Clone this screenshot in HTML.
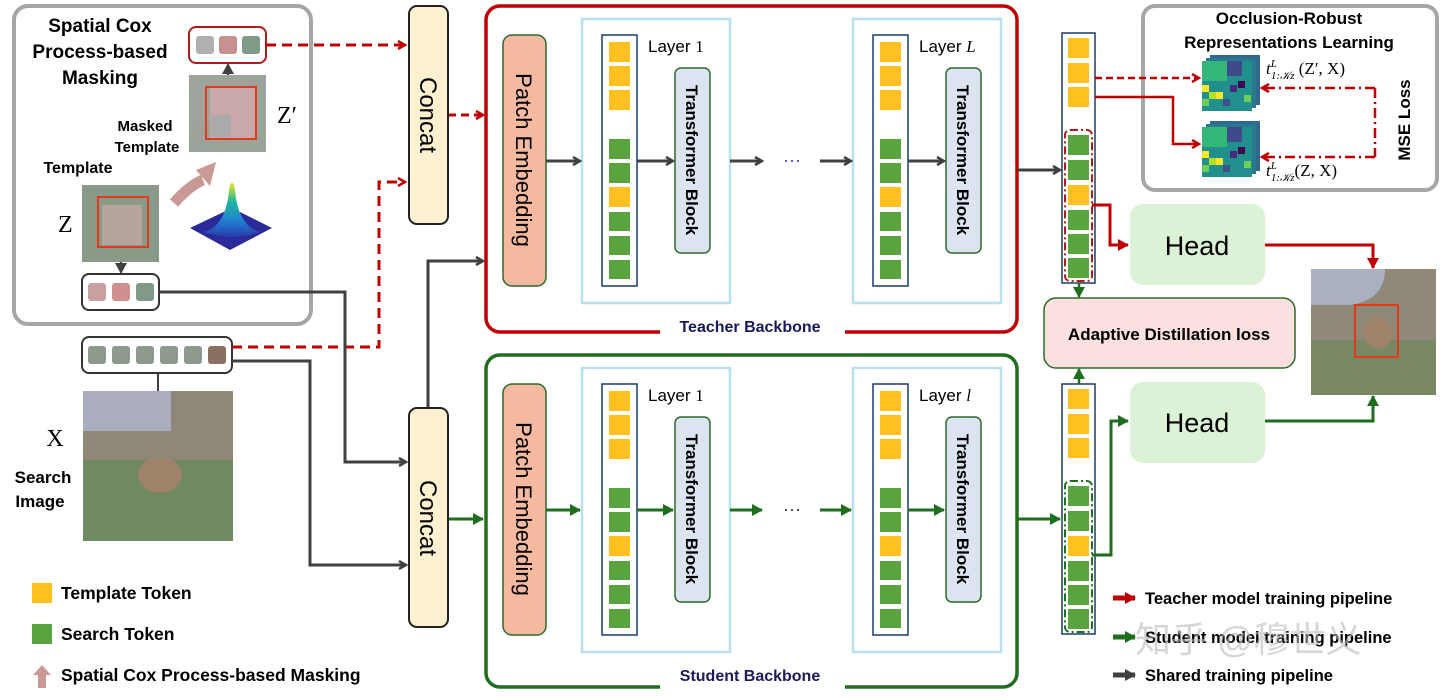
<!DOCTYPE html>
<html><head><meta charset="utf-8"><style>
body{margin:0;background:#fff}
svg{display:block}
text{font-family:"Liberation Sans",sans-serif}
.b{font-weight:bold}
.s{font-family:"Liberation Serif",serif}
</style></head><body>
<svg width="1440" height="699" viewBox="0 0 1440 699" xmlns="http://www.w3.org/2000/svg">
<defs>
<marker id="ad" markerWidth="10" markerHeight="10" refX="8" refY="5" orient="auto" markerUnits="userSpaceOnUse"><path d="M1,1 L8,5 L1,9" fill="none" stroke="#404040" stroke-width="2.5"/></marker>
<marker id="ar" markerWidth="10" markerHeight="10" refX="8" refY="5" orient="auto" markerUnits="userSpaceOnUse"><path d="M1,1 L8,5 L1,9" fill="none" stroke="#c00000" stroke-width="2.5"/></marker>
<marker id="arf" markerWidth="12" markerHeight="12" refX="10" refY="6" orient="auto" markerUnits="userSpaceOnUse"><path d="M0,0 L11,6 L0,12 Z" fill="#c00000"/></marker>
<marker id="ag" markerWidth="12" markerHeight="12" refX="10" refY="6" orient="auto" markerUnits="userSpaceOnUse"><path d="M0,0 L11,6 L0,12 Z" fill="#1e6e1e"/></marker>
<marker id="adf" markerWidth="12" markerHeight="12" refX="10" refY="6" orient="auto" markerUnits="userSpaceOnUse"><path d="M0,0 L11,6 L0,12 Z" fill="#404040"/></marker>
<linearGradient id="gau" x1="0" y1="0" x2="0" y2="1"><stop offset="0" stop-color="#f5e020"/><stop offset="0.35" stop-color="#20b8a0"/><stop offset="0.7" stop-color="#2080d0"/><stop offset="1" stop-color="#2a3aaa"/></linearGradient>
<linearGradient id="grass" x1="0" y1="0" x2="1" y2="1"><stop offset="0" stop-color="#7a8a78"/><stop offset="1" stop-color="#6f8a6a"/></linearGradient>
<g id="hm">
<rect x="8" y="0" width="50" height="50" fill="#31688e"/>
<rect x="4" y="3" width="50" height="50" fill="#2a788e"/>
<rect x="0" y="6" width="50" height="50" fill="#21908d"/>
<rect x="0" y="6" width="25" height="20" fill="#35b779"/>
<rect x="25" y="6" width="15" height="15" fill="#3e4a89"/>
<rect x="36" y="26" width="7" height="7" fill="#440154"/>
<rect x="0" y="30" width="7" height="7" fill="#fde725"/>
<rect x="7" y="37" width="7" height="7" fill="#b5de2b"/>
<rect x="14" y="37" width="7" height="7" fill="#fde725"/>
<rect x="0" y="44" width="7" height="7" fill="#6ece58"/>
<rect x="21" y="44" width="7" height="7" fill="#3b528b"/>
<rect x="28" y="30" width="7" height="7" fill="#482878"/>
<rect x="42" y="40" width="7" height="7" fill="#6ece58"/>
</g>
</defs>

<rect x="14" y="6" width="297" height="318" rx="14" fill="#fff" stroke="#a6a6a6" stroke-width="4"/>
<text x="100" y="32" class="b" font-size="19" text-anchor="middle">Spatial Cox</text>
<text x="100" y="58" class="b" font-size="19" text-anchor="middle">Process-based</text>
<text x="100" y="84" class="b" font-size="19" text-anchor="middle">Masking</text>
<rect x="189" y="27" width="77" height="36" rx="7" fill="#fff" stroke="#b01c1c" stroke-width="2"/>
<rect x="196" y="36" width="18" height="18" rx="3" fill="#b0b0b0"/>
<rect x="219" y="36" width="18" height="18" rx="3" fill="#c99090"/>
<rect x="242" y="36" width="18" height="18" rx="3" fill="#7f9a88"/>
<line x1="228" y1="75" x2="228" y2="64" stroke="#000" stroke-width="1.5" marker-end="url(#adf)"/>
<rect x="189" y="75" width="77" height="77" fill="url(#grass)"/>
<rect x="189" y="75" width="77" height="77" fill="#b5b5b5" opacity="0.6"/>
<rect x="210" y="88" width="45" height="50" fill="#c8a8a8"/>
<rect x="211" y="115" width="20" height="22" fill="#aaa"/>
<rect x="206" y="87" width="50" height="52" fill="none" stroke="#e03a1a" stroke-width="2"/>
<text x="277" y="123" class="s" font-size="24">Z′</text>
<text x="145" y="131" class="b" font-size="15" text-anchor="middle">Masked</text>
<text x="147" y="152" class="b" font-size="15" text-anchor="middle">Template</text>
<text x="78" y="173" class="b" font-size="16" text-anchor="middle">Template</text>
<path d="M174,203 Q190,185 203,180" fill="none" stroke="#c99a95" stroke-width="11"/>
<path d="M196,170 L216,162 L210,186 Z" fill="#c99a95"/>
<path d="M190,228 L230,250 L272,228 L232,208 Z" fill="#2a2a9a"/>
<path d="M204,232 Q226,226 229,190 Q232,175 235,190 Q238,226 260,232 Q232,242 204,232 Z" fill="url(#gau)"/>
<text x="58" y="232" class="s" font-size="24">Z</text>
<rect x="82" y="185" width="77" height="77" fill="#8a9a88"/>
<rect x="102" y="205" width="40" height="40" fill="#b7a49e"/>
<rect x="98" y="197" width="50" height="50" fill="none" stroke="#e03a1a" stroke-width="2"/>
<line x1="121" y1="262" x2="121" y2="273" stroke="#000" stroke-width="1.5" marker-end="url(#adf)"/>
<rect x="82" y="274" width="77" height="36" rx="7" fill="#fff" stroke="#333" stroke-width="2"/>
<rect x="88" y="283" width="18" height="18" rx="3" fill="#c9a0a0"/>
<rect x="112" y="283" width="18" height="18" rx="3" fill="#d09090"/>
<rect x="136" y="283" width="18" height="18" rx="3" fill="#7f9a88"/>

<rect x="82" y="337" width="150" height="36" rx="7" fill="#fff" stroke="#333" stroke-width="2"/>
<g fill="#8e9a8e"><rect x="88" y="346" width="18" height="18" rx="3"/><rect x="112" y="346" width="18" height="18" rx="3"/><rect x="136" y="346" width="18" height="18" rx="3"/><rect x="160" y="346" width="18" height="18" rx="3"/><rect x="184" y="346" width="18" height="18" rx="3"/><rect x="208" y="346" width="18" height="18" rx="3" fill="#8a7060"/></g>
<line x1="158" y1="391" x2="158" y2="374" stroke="#000" stroke-width="1.5"/>
<rect x="83" y="391" width="150" height="150" fill="#8f8878"/>
<rect x="83" y="391" width="88" height="40" fill="#a9adbe"/>
<rect x="83" y="460" width="150" height="81" fill="#6f8a60"/>
<ellipse cx="160" cy="475" rx="22" ry="18" fill="#9e826a"/>
<text x="55" y="446" class="s" font-size="24" text-anchor="middle">X</text>
<text x="43" y="483" class="b" font-size="17" text-anchor="middle">Search</text>
<text x="40" y="507" class="b" font-size="17" text-anchor="middle">Image</text>

<rect x="32" y="583" width="20" height="20" fill="#ffc020"/>
<text x="61" y="599" class="b" font-size="17.5">Template Token</text>
<rect x="32" y="624" width="20" height="20" fill="#5aa440"/>
<text x="61" y="640" class="b" font-size="17.5">Search Token</text>
<path d="M38,688 L38,675 L33,675 L42,665 L51,675 L46,675 L46,688 Z" fill="#c99a95"/>
<text x="61" y="681" class="b" font-size="17.5">Spatial Cox Process-based Masking</text>

<path d="M266,45 L405,45" fill="none" stroke="#c00000" stroke-width="3" stroke-dasharray="10,6" marker-end="url(#ar)"/>
<path d="M232,347 L379,347 L379,182 L405,182" fill="none" stroke="#c00000" stroke-width="3" stroke-dasharray="10,6" marker-end="url(#ar)"/>
<path d="M448,115 L483,115" fill="none" stroke="#c00000" stroke-width="3" stroke-dasharray="8,5" marker-end="url(#ar)"/>
<path d="M159,292 L345,292 L345,462 L406,462" fill="none" stroke="#404040" stroke-width="3" marker-end="url(#ad)"/>
<path d="M232,361 L310,361 L310,565 L406,565" fill="none" stroke="#404040" stroke-width="3" marker-end="url(#ad)"/>
<path d="M428,408 L428,261 L483,261" fill="none" stroke="#404040" stroke-width="3" marker-end="url(#ad)"/>
<path d="M448,519 L483,519" fill="none" stroke="#1e6e1e" stroke-width="3" marker-end="url(#ag)"/>

<rect x="409" y="6" width="39" height="218" rx="8" fill="#fdf1cf" stroke="#222" stroke-width="2"/>
<text transform="translate(420,115) rotate(90)" font-size="24" text-anchor="middle">Concat</text>
<rect x="409" y="408" width="39" height="219" rx="8" fill="#fdf1cf" stroke="#222" stroke-width="2"/>
<text transform="translate(420,518) rotate(90)" font-size="24" text-anchor="middle">Concat</text>

<rect x="486" y="6" width="531" height="326" rx="14" fill="#fff" stroke="#c00000" stroke-width="3.5"/>
<rect x="660" y="318" width="185" height="20" fill="#fff"/>
<text x="750" y="332" class="b" font-size="16" fill="#1a1a5a" text-anchor="middle">Teacher Backbone</text>
<rect x="486" y="355" width="531" height="332" rx="14" fill="#fff" stroke="#1e6e1e" stroke-width="3.5"/>
<rect x="660" y="672" width="185" height="20" fill="#fff"/>
<text x="750" y="681" class="b" font-size="16" fill="#1a1a5a" text-anchor="middle">Student Backbone</text>

<g id="tb">
<rect x="503" y="35" width="43" height="251" rx="9" fill="#f5b9a0" stroke="#2a6a2a" stroke-width="1.5"/>
<text transform="translate(516,160) rotate(90)" font-size="22" text-anchor="middle">Patch Embedding</text>
<rect x="582" y="19" width="148" height="284" fill="#fff" stroke="#b8e0ee" stroke-width="2.5"/>
<rect x="853" y="19" width="148" height="284" fill="#fff" stroke="#b8e0ee" stroke-width="2.5"/>
<g id="col">
<rect x="602" y="35" width="35" height="251" fill="#fff" stroke="#1a3a6a" stroke-width="1.5"/>
<g fill="#ffc020"><rect x="609" y="42" width="21" height="20"/><rect x="609" y="66" width="21" height="20"/><rect x="609" y="90" width="21" height="20"/><rect x="609" y="187" width="21" height="20"/></g>
<g fill="#5aa440"><rect x="609" y="139" width="21" height="20"/><rect x="609" y="163" width="21" height="20"/><rect x="609" y="212" width="21" height="19"/><rect x="609" y="236" width="21" height="19"/><rect x="609" y="260" width="21" height="19"/></g>
</g>
<use href="#col" x="271"/>
<rect x="675" y="68" width="35" height="185" rx="6" fill="#dce4f2" stroke="#2a6a2a" stroke-width="1.5"/>
<text transform="translate(686,160) rotate(90)" class="b" font-size="17" text-anchor="middle">Transformer Block</text>
<rect x="946" y="68" width="35" height="185" rx="6" fill="#dce4f2" stroke="#2a6a2a" stroke-width="1.5"/>
<text transform="translate(957,160) rotate(90)" class="b" font-size="17" text-anchor="middle">Transformer Block</text>
</g>
<text x="648" y="52" font-size="17">Layer <tspan class="s">1</tspan></text>
<text x="919" y="52" font-size="17">Layer <tspan class="s" font-style="italic">L</tspan></text>
<use href="#tb" y="349"/>
<text x="648" y="401" font-size="17">Layer <tspan class="s">1</tspan></text>
<text x="919" y="401" font-size="17">Layer <tspan class="s" font-style="italic">l</tspan></text>

<g stroke="#404040" stroke-width="3" fill="none">
<path d="M546,161 L580,161" marker-end="url(#ad)"/><path d="M637,161 L673,161" marker-end="url(#ad)"/><path d="M730,161 L762,161" marker-end="url(#ad)"/><path d="M820,161 L851,161" marker-end="url(#ad)"/><path d="M908,161 L944,161" marker-end="url(#ad)"/>
<path d="M1017,170 L1060,170" marker-end="url(#ad)"/>
</g>
<text x="792" y="166" font-size="18" fill="#5a3aa0" text-anchor="middle">···</text>
<g stroke="#1e6e1e" stroke-width="3" fill="none">
<path d="M546,510 L580,510" marker-end="url(#ag)"/><path d="M637,510 L673,510" marker-end="url(#ag)"/><path d="M730,510 L762,510" marker-end="url(#ag)"/><path d="M820,510 L851,510" marker-end="url(#ag)"/><path d="M908,510 L944,510" marker-end="url(#ag)"/>
<path d="M1017,519 L1060,519" marker-end="url(#ag)"/>
</g>
<text x="792" y="515" font-size="18" fill="#333" text-anchor="middle">···</text>

<g id="oc">
<rect x="1062" y="33" width="33" height="250" fill="#fff" stroke="#1a3a6a" stroke-width="1.5"/>
<g fill="#ffc020"><rect x="1068" y="38" width="21" height="20"/><rect x="1068" y="63" width="21" height="20"/><rect x="1068" y="87" width="21" height="20"/><rect x="1068" y="185" width="21" height="20"/></g>
<g fill="#5aa440"><rect x="1068" y="135" width="21" height="20"/><rect x="1068" y="160" width="21" height="20"/><rect x="1068" y="210" width="21" height="20"/><rect x="1068" y="234" width="21" height="20"/><rect x="1068" y="258" width="21" height="20"/></g>
</g>
<rect x="1065" y="130" width="27" height="151" rx="5" fill="none" stroke="#b01c1c" stroke-width="2" stroke-dasharray="8,3,2,3"/>
<use href="#oc" y="351"/>
<rect x="1065" y="481" width="27" height="151" rx="5" fill="none" stroke="#1e6e1e" stroke-width="2" stroke-dasharray="8,3,2,3"/>

<rect x="1143" y="6" width="294" height="184" rx="12" fill="#fff" stroke="#a6a6a6" stroke-width="4"/>
<text x="1289" y="24" class="b" font-size="17" text-anchor="middle">Occlusion-Robust</text>
<text x="1289" y="48" class="b" font-size="17" text-anchor="middle">Representations Learning</text>
<use href="#hm" x="1202" y="55"/>
<use href="#hm" x="1202" y="121"/>
<text x="1266" y="74" class="s" font-size="17" font-style="italic">t<tspan font-size="11" dy="-7">L</tspan><tspan font-size="11" dx="-6" dy="12">1:𝒦z</tspan><tspan dy="-5" font-style="normal"> (Z′, X)</tspan></text>
<text x="1266" y="176" class="s" font-size="17" font-style="italic">t<tspan font-size="11" dy="-7">L</tspan><tspan font-size="11" dx="-6" dy="12">1:𝒦z</tspan><tspan dy="-5" font-style="normal">(Z, X)</tspan></text>
<text transform="translate(1410,120) rotate(-90)" class="b" font-size="17" text-anchor="middle">MSE Loss</text>
<path d="M1375,88 L1375,157" fill="none" stroke="#c00000" stroke-width="2.5" stroke-dasharray="10,4,2,4"/>
<path d="M1375,88 L1262,88" fill="none" stroke="#c00000" stroke-width="2.5" stroke-dasharray="10,4,2,4" marker-end="url(#ar)"/>
<path d="M1375,157 L1262,157" fill="none" stroke="#c00000" stroke-width="2.5" stroke-dasharray="10,4,2,4" marker-end="url(#ar)"/>
<path d="M1095,78 L1199,78" fill="none" stroke="#c00000" stroke-width="2.5" stroke-dasharray="7,4" marker-end="url(#ar)"/>
<path d="M1095,97 L1173,97 L1173,144 L1199,144" fill="none" stroke="#c00000" stroke-width="2.5" marker-end="url(#ar)"/>

<rect x="1130" y="204" width="135" height="81" rx="13" fill="#dcf2d6"/>
<text x="1197" y="255" font-size="27" text-anchor="middle">Head</text>
<rect x="1130" y="382" width="135" height="81" rx="13" fill="#dcf2d6"/>
<text x="1197" y="432" font-size="27" text-anchor="middle">Head</text>
<rect x="1044" y="298" width="251" height="70" rx="12" fill="#fbe0e0" stroke="#2a6a2a" stroke-width="1.5"/>
<text x="1169" y="340" class="b" font-size="17" text-anchor="middle">Adaptive Distillation loss</text>

<path d="M1092,205 L1110,205 L1110,245 L1128,245" fill="none" stroke="#c00000" stroke-width="3" marker-end="url(#arf)"/>
<path d="M1265,245 L1373,245 L1373,268" fill="none" stroke="#c00000" stroke-width="3" marker-end="url(#arf)"/>
<path d="M1092,555 L1111,555 L1111,421 L1128,421" fill="none" stroke="#1e6e1e" stroke-width="3" marker-end="url(#ag)"/>
<path d="M1265,421 L1373,421 L1373,396" fill="none" stroke="#1e6e1e" stroke-width="3" marker-end="url(#ag)"/>
<path d="M1079,283 L1079,297" stroke="#1e6e1e" stroke-width="2.5" marker-end="url(#ag)"/>
<path d="M1079,384 L1079,369" stroke="#1e6e1e" stroke-width="2.5" marker-end="url(#ag)"/>

<rect x="1311" y="269" width="125" height="126" fill="#8f8878"/>
<path d="M1311,269 L1385,269 Q1385,300 1350,305 L1311,305 Z" fill="#aab0bf"/>
<rect x="1311" y="340" width="125" height="55" fill="#72885f" opacity="0.8"/>
<ellipse cx="1378" cy="333" rx="14" ry="16" fill="#9e826a"/>
<rect x="1355" y="305" width="43" height="52" fill="none" stroke="#e03a1a" stroke-width="2"/>

<path d="M1113,598 L1135,598" stroke="#c00000" stroke-width="5" marker-end="url(#arf)"/>
<text x="1145" y="604" class="b" font-size="16.5">Teacher model training pipeline</text>
<path d="M1113,637 L1135,637" stroke="#1e6e1e" stroke-width="5" marker-end="url(#ag)"/>
<text x="1145" y="643" class="b" font-size="16.5">Student model training pipeline</text>
<path d="M1113,675 L1135,675" stroke="#404040" stroke-width="5" marker-end="url(#adf)"/>
<text x="1145" y="681" class="b" font-size="16.5">Shared training pipeline</text>
<text x="1135" y="652" font-size="36" fill="#bbb" opacity="0.6" font-family="'Liberation Sans','Noto Sans CJK SC',sans-serif">知乎 @穆世义</text>
</svg>
</body></html>
